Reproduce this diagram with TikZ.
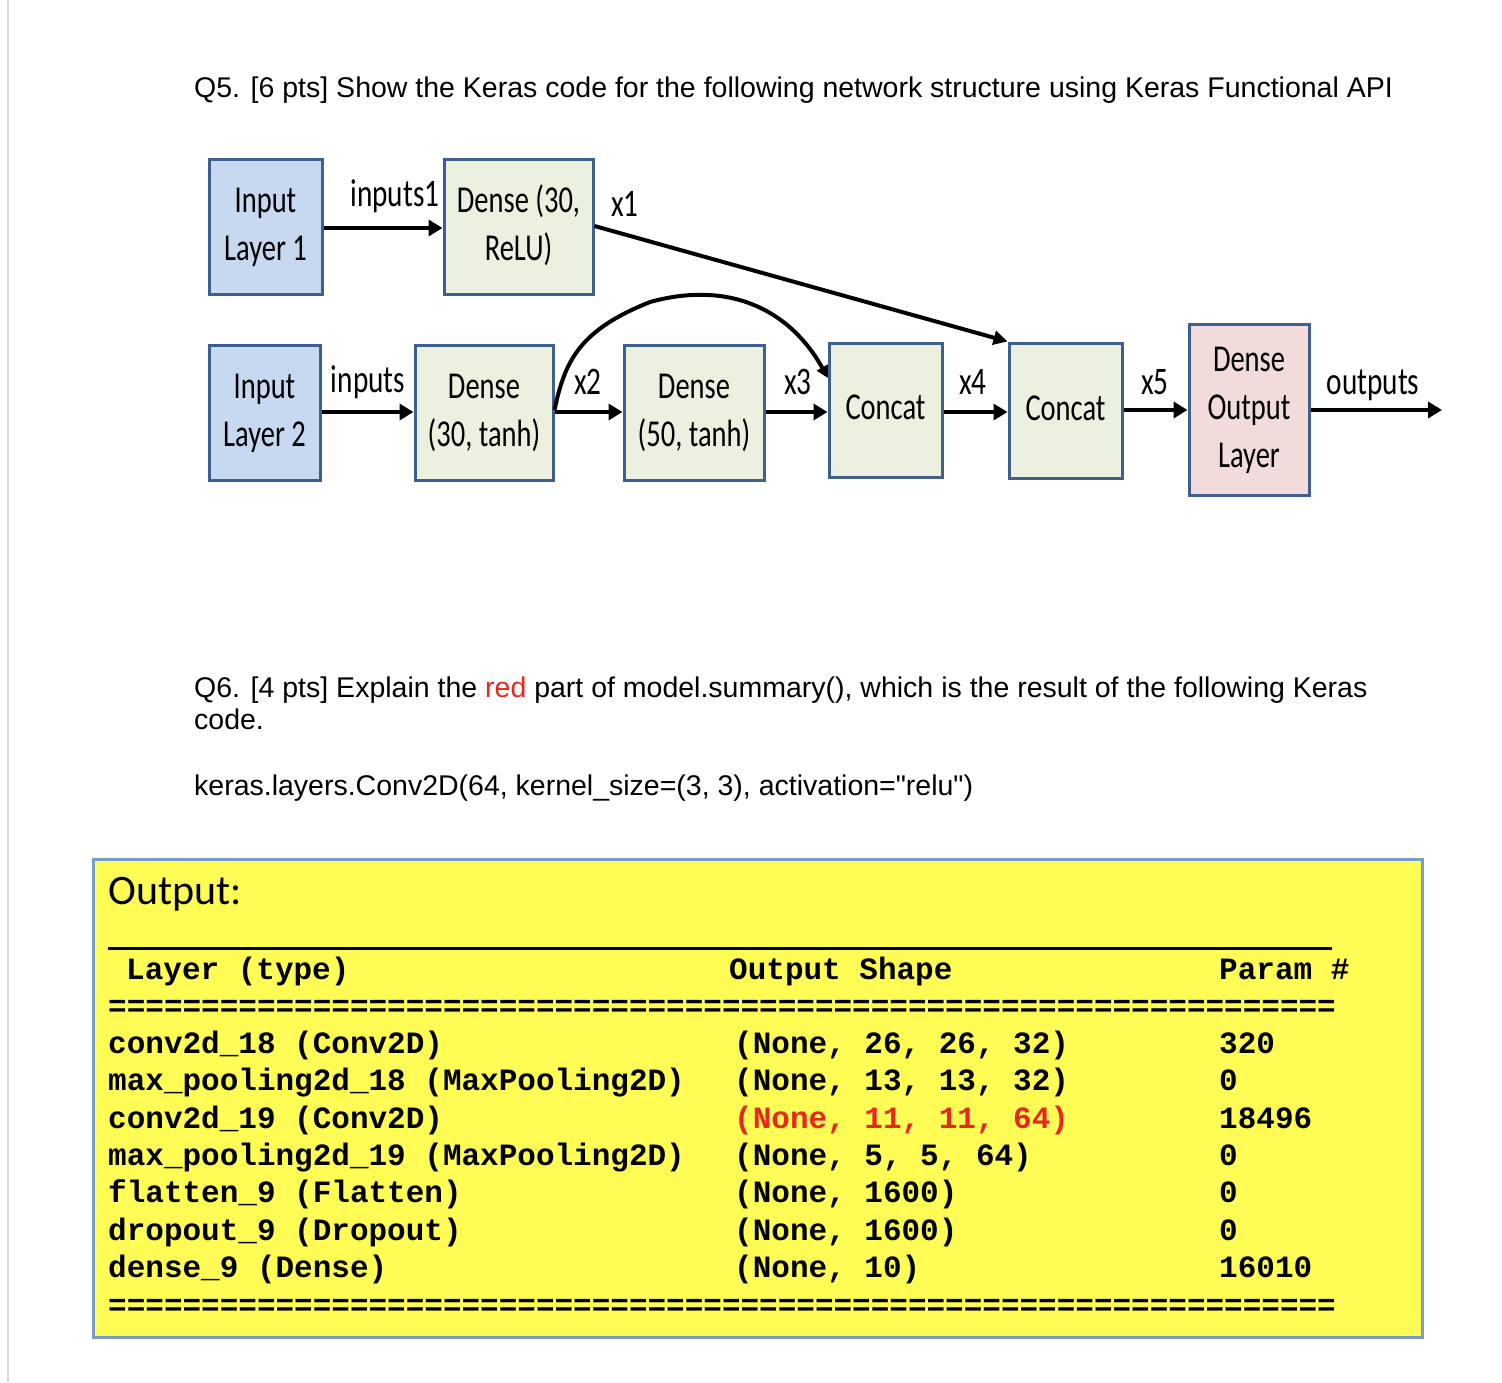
\documentclass[tikz,border=0pt]{standalone}
\usepackage{fontspec}
\setmainfont{Liberation Sans}
\newfontfamily\calfnt{Carlito}
\newfontfamily\cour{Liberation Mono}
\usetikzlibrary{arrows.meta}
\definecolor{inb}{HTML}{C6D9F1}
\definecolor{dng}{HTML}{EBF1DE}
\definecolor{outp}{HTML}{F2DCDB}
\definecolor{bord}{HTML}{3F5F8F}
\definecolor{ylw}{HTML}{FFFD55}
\definecolor{ybord}{HTML}{7A9CCB}
\definecolor{redt}{HTML}{E8281E}
\newcommand\sq[1]{\scalebox{0.75}[1]{\begin{tabular}{@{}c@{}}#1\end{tabular}}}
\newcommand\narrowlbl[1]{\scalebox{0.75}[1]{#1}}
\tikzset{
 lay/.style={draw=bord,line width=3pt,inner sep=0pt,align=center,font=\calfnt\fontsize{38}{48}\selectfont},
 arr/.style={line width=4.5pt,-{Triangle[length=14pt,width=16pt]}},
 lbl/.style={font=\calfnt\fontsize{39}{40}\selectfont,anchor=base,inner sep=0pt},
 q/.style={font=\fontsize{28.5}{32}\selectfont,anchor=base west,inner sep=0pt},
 cd/.style={font=\cour\bfseries\fontsize{31}{34}\selectfont,anchor=base west,inner sep=0pt},
}
\begin{document}
\begin{tikzpicture}[x=1pt,y=-1pt]
\useasboundingbox (0,0) rectangle (1502,1382);
\draw[gray!30,line width=2pt] (8,0) -- (8,1382);
\node[q] (q5) at (194,97) {Q5. [6 pts] Show the Keras code for the following network structure using Keras Functional API};
% boxes
\node[lay,fill=inb,minimum width=113pt,minimum height=135pt] (i1) at (265.5,226.5) {\sq{Input\\Layer 1}};
\node[lay,fill=dng,minimum width=149pt,minimum height=135pt] (d1) at (518.5,226.5) {\sq{Dense (30,\\ReLU)}};
\node[lay,fill=inb,minimum width=111pt,minimum height=135pt] (i2) at (264.5,412.5) {\sq{Input\\Layer 2}};
\node[lay,fill=dng,minimum width=138pt,minimum height=135pt] (d2) at (484,412.5) {\sq{Dense\\(30, tanh)}};
\node[lay,fill=dng,minimum width=140pt,minimum height=135pt] (d3) at (694,412.5) {\sq{Dense\\(50, tanh)}};
\node[lay,fill=dng,minimum width=113pt,minimum height=134pt] (c1) at (885.5,410) {\sq{Concat}};
\node[lay,fill=dng,minimum width=113pt,minimum height=135pt] (c2) at (1065.5,410.5) {\sq{Concat}};
\node[lay,fill=outp,minimum width=120pt,minimum height=171pt] (o) at (1249,409.5) {\sq{Dense\\Output\\Layer}};
\coordinate (oe) at (1442,410);
% arrows
\draw[arr] (i1.east|-0,228) -- (d1.west|-0,228);
\draw[arr] (i2.east|-0,412) -- (d2.west|-0,412);
\draw[arr] (d2.east|-0,412) -- (d3.west|-0,412);
\draw[arr] (d3.east|-0,412) -- (c1.west|-0,412);
\draw[arr] (c1.east|-0,412) -- (c2.west|-0,412);
\draw[arr] (c2.east|-0,410) -- (o.west|-0,410);
\draw[arr] (o.east|-0,410) -- (oe);
\draw[line width=4pt,-{Triangle[length=14pt,width=14pt]}] (d1.east|-0,226) -- (c2.north west);
\draw[line width=4pt,-{Triangle[length=12pt,width=12pt]}] (d2.east|-0,410) .. controls (565,360) and (580,330) .. (650,302) .. controls (730,280) and (790,310) .. (828,378);
% labels
\node[lbl] (l1) at (395,206) {\narrowlbl{inputs1}};
\node[lbl] (l2) at (625,216) {\narrowlbl{x1}};
\node[lbl] (l3) at (368,392) {\narrowlbl{inputs}};
\node[lbl] (l4) at (588,394) {\narrowlbl{x2}};
\node[lbl] (l5) at (798,394) {\narrowlbl{x3}};
\node[lbl] (l6) at (973,394) {\narrowlbl{x4}};
\node[lbl] (l7) at (1155,394) {\narrowlbl{x5}};
\node[lbl] (l8) at (1373,394) {\narrowlbl{outputs}};
% Q6
\node[q] (q6a) at (194,697) {Q6. [4 pts] Explain the \textcolor{redt}{red} part of model.summary(), which is the result of the following Keras};
\node[q] (q6b) at (194,729) {code.};
\node[q] (q6c) at (194,795) {keras.layers.Conv2D(64, kernel\_size=(3, 3), activation=\textquotedbl relu\textquotedbl)};
% output panel
\draw[draw=ybord,fill=ylw,line width=3pt] (93,859) rectangle (1422,1337);
\node[font=\calfnt\fontsize{42}{42}\selectfont,anchor=base west,inner sep=0pt] (ot) at (108,904) {Output:};
\draw[line width=3pt] (108,948) -- (1332,948);
\node[cd] (h1) at (126,979) {Layer (type)};
\node[cd] (h2) at (729,979) {Output Shape};
\node[cd] (h3) at (1219,979) {Param \#};
\node[cd] (eq1) at (108,1016) {==================================================================};
\foreach \y/\a/\b/\c/\r [count=\i] in {
 1053/conv2d\_18 (Conv2D)/{(None, 26, 26, 32)}/320/0,
 1090/max\_pooling2d\_18 (MaxPooling2D)/{(None, 13, 13, 32)}/0/0,
 1128/conv2d\_19 (Conv2D)/{(None, 11, 11, 64)}/18496/1,
 1165/max\_pooling2d\_19 (MaxPooling2D)/{(None, 5, 5, 64)}/0/0,
 1202/flatten\_9 (Flatten)/{(None, 1600)}/0/0,
 1240/dropout\_9 (Dropout)/{(None, 1600)}/0/0,
 1277/dense\_9 (Dense)/{(None, 10)}/16010/0}{
 \node[cd] (ra\i) at (108,\y) {\a};
 \ifnum\r=1 \node[cd,text=redt] (rb\i) at (734,\y) {\b};
 \else \node[cd] (rb\i) at (734,\y) {\b}; \fi
 \node[cd] (rc\i) at (1219,\y) {\c};
}
\node[cd] (eq2) at (108,1315) {==================================================================};
\end{tikzpicture}
\end{document}
